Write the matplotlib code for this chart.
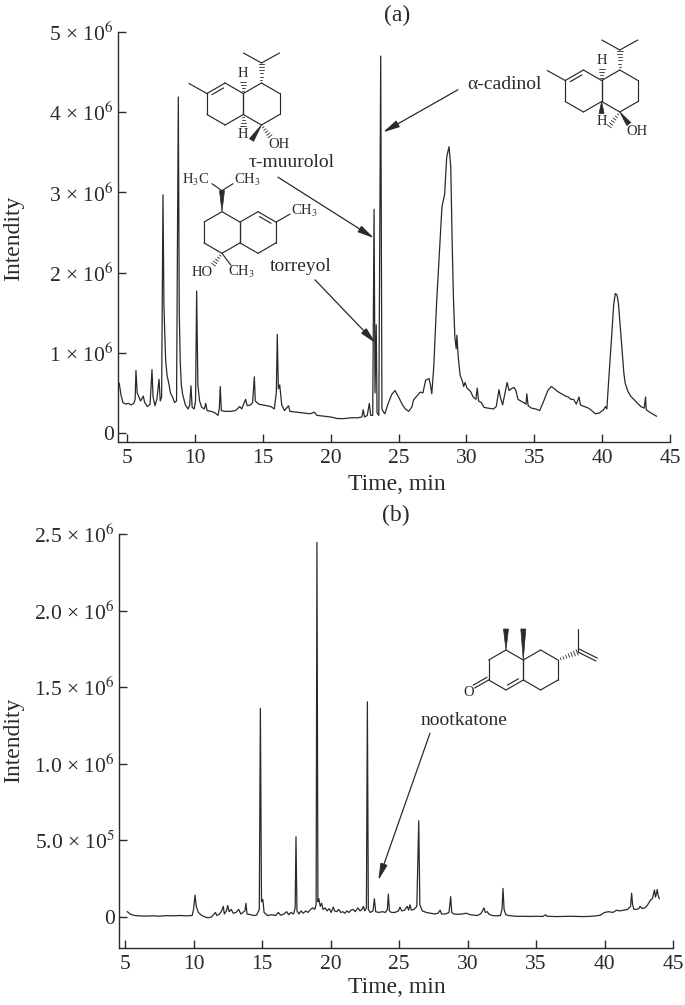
import matplotlib
matplotlib.use("Agg")
import matplotlib.pyplot as plt
from matplotlib.lines import Line2D
from matplotlib.patches import Polygon
from matplotlib.transforms import Affine2D
import numpy as np

plt.rcParams['font.family'] = ['Liberation Serif', 'DejaVu Serif']
plt.rcParams['mathtext.fontset'] = 'stix'

# ---------------- data: panel (a) ----------------
time_a = [4.43, 4.55, 4.7, 4.9, 5.1, 5.3, 5.5, 5.6, 5.66, 5.75, 5.9, 6.0, 6.2, 6.3, 6.5, 6.7, 6.84, 6.92,
          7.06, 7.2, 7.36, 7.45, 7.55, 7.65, 7.72, 7.78, 7.85, 7.95, 8.1, 8.2, 8.35, 8.5, 8.65, 8.78,
          8.85, 8.92, 9.0, 9.1, 9.3, 9.5, 9.62, 9.71, 9.8, 9.95, 10.05, 10.13, 10.22, 10.35, 10.5,
          10.7, 10.8, 10.9, 11.2, 11.5, 11.7, 11.8, 11.87, 11.95, 12.2, 12.6, 13.0, 13.3, 13.45,
          13.74, 13.85, 14.1, 14.25, 14.38, 14.45, 14.7, 15.0, 15.3, 15.6, 15.85, 16.0, 16.07, 16.15,
          16.25, 16.4, 16.6, 16.9, 17.0, 17.5, 18.0, 18.5, 18.8, 19.0, 19.5, 20.0, 20.5, 21.0, 21.5,
          22.0, 22.3, 22.4, 22.5, 22.7, 22.85, 22.95, 23.1, 23.2, 23.27, 23.36, 23.42, 23.55, 23.69,
          23.78, 23.9, 24.0, 24.2, 24.5, 24.74, 25.0, 25.3, 25.5, 25.75, 26.0, 26.1, 26.3, 26.6,
          26.8, 27.0, 27.25, 27.35, 27.45, 27.6, 27.8, 28.05, 28.2, 28.4, 28.55, 28.72, 28.85, 28.95,
          29.05, 29.15, 29.25, 29.3, 29.4, 29.54, 29.7, 29.8, 29.9, 30.05, 30.3, 30.5, 30.7, 30.8,
          30.9, 31.1, 31.3, 31.6, 32.0, 32.2, 32.4, 32.5, 32.67, 32.85, 33.0, 33.15, 33.3, 33.5,
          33.65, 33.8, 34.0, 34.2, 34.4, 34.45, 34.55, 34.8, 35.1, 35.4, 35.7, 36.0, 36.25, 36.5,
          36.7, 37.0, 37.3, 37.5, 37.7, 37.9, 38.1, 38.3, 38.4, 38.7, 39.0, 39.3, 39.5, 39.8, 40.1,
          40.25, 40.35, 40.5, 40.7, 40.85, 40.97, 41.1, 41.2, 41.3, 41.45, 41.6, 41.7, 41.9, 42.1,
          42.5, 42.85, 43.1, 43.2, 43.25, 43.5, 43.8, 44.0]
intensity_a = [0.62, 0.48, 0.38, 0.36, 0.37, 0.35, 0.37, 0.42, 0.78, 0.50, 0.44, 0.40, 0.46, 0.38, 0.33,
               0.36, 0.79, 0.45, 0.34, 0.42, 0.67, 0.40, 0.45, 2.97, 1.60, 1.25, 0.90, 0.72, 0.60, 0.50,
               0.45, 0.38, 0.40, 4.19, 1.50, 0.90, 0.60, 0.48, 0.35, 0.30, 0.35, 0.59, 0.32, 0.30, 0.40,
               1.77, 0.60, 0.40, 0.32, 0.30, 0.37, 0.28, 0.27, 0.25, 0.22, 0.30, 0.58, 0.28, 0.27, 0.27,
               0.28, 0.33, 0.30, 0.42, 0.34, 0.35, 0.38, 0.70, 0.40, 0.36, 0.35, 0.34, 0.33, 0.30, 0.50,
               1.23, 0.55, 0.60, 0.35, 0.28, 0.34, 0.27, 0.26, 0.25, 0.24, 0.26, 0.22, 0.21, 0.20, 0.18,
               0.18, 0.19, 0.19, 0.20, 0.29, 0.20, 0.22, 0.37, 0.22, 0.22, 2.79, 0.50, 1.35, 0.25, 0.22,
               4.70, 0.30, 0.26, 0.24, 0.35, 0.48, 0.53, 0.45, 0.35, 0.30, 0.27, 0.33, 0.41, 0.45, 0.51,
               0.50, 0.66, 0.68, 0.60, 0.49, 0.83, 1.60, 2.37, 2.82, 2.98, 3.44, 3.57, 3.32, 2.40, 1.66,
               1.20, 1.05, 1.22, 0.95, 0.72, 0.65, 0.58, 0.63, 0.56, 0.52, 0.45, 0.42, 0.56, 0.40, 0.38,
               0.32, 0.31, 0.30, 0.33, 0.54, 0.45, 0.35, 0.50, 0.63, 0.53, 0.55, 0.57, 0.53, 0.42, 0.40,
               0.38, 0.36, 0.49, 0.34, 0.31, 0.30, 0.28, 0.40, 0.53, 0.58, 0.55, 0.52, 0.49, 0.46, 0.45,
               0.42, 0.42, 0.36, 0.45, 0.35, 0.33, 0.31, 0.27, 0.24, 0.25, 0.29, 0.33, 0.30, 0.70, 1.20,
               1.60, 1.74, 1.72, 1.62, 1.40, 1.08, 0.75, 0.62, 0.52, 0.46, 0.39, 0.33, 0.31, 0.45, 0.29,
               0.26, 0.23, 0.21]

# ---------------- data: panel (b) ----------------
time_b = [5.17, 5.4, 5.7, 6.0, 6.5, 7.0, 7.5, 8.0, 8.5, 9.0, 9.5, 9.9, 10.0, 10.11, 10.2, 10.35, 10.6,
          11.0, 11.3, 11.6, 11.7, 11.9, 12.05, 12.17, 12.25, 12.4, 12.5, 12.6, 12.75, 12.9, 13.1, 13.3,
          13.45, 13.6, 13.75, 13.83, 13.9, 14.2, 14.4, 14.6, 14.8, 14.88, 14.96, 15.06, 15.15, 15.4,
          15.7, 16.0, 16.2, 16.35, 16.6, 16.8, 16.95, 17.1, 17.3, 17.42, 17.48, 17.55, 17.7, 17.85,
          18.0, 18.2, 18.35, 18.55, 18.7, 18.85, 18.95, 19.01, 19.08, 19.15, 19.25, 19.35, 19.45, 19.6,
          19.75, 19.9, 20.05, 20.2, 20.3, 20.45, 20.6, 20.75, 20.9, 21.05, 21.2, 21.35, 21.5, 21.66,
          21.8, 22.0, 22.15, 22.3, 22.4, 22.5, 22.62, 22.69, 22.76, 22.9, 23.1, 23.2, 23.3, 23.5, 23.8,
          24.0, 24.15, 24.22, 24.3, 24.45, 24.7, 24.95, 25.07, 25.2, 25.4, 25.6, 25.7, 25.8, 25.9,
          26.1, 26.3, 26.44, 26.52, 26.7, 27.0, 27.3, 27.6, 27.85, 28.0, 28.1, 28.4, 28.65, 28.77,
          28.85, 29.0, 29.3, 29.6, 29.9, 30.2, 30.5, 30.7, 30.95, 31.1, 31.2, 31.3, 31.45, 31.55, 31.8,
          32.1, 32.4, 32.52, 32.59, 32.67, 32.8, 33.0, 33.5, 34.0, 34.5, 35.0, 35.5, 35.7, 35.8, 36.5,
          37.0, 37.5, 38.0, 38.5, 39.0, 39.4, 39.7, 40.0, 40.3, 40.6, 40.9, 41.1, 41.4, 41.7, 41.9,
          41.98, 42.05, 42.15, 42.3, 42.5, 42.6, 42.75, 42.95, 43.15, 43.35, 43.5, 43.6, 43.65, 43.72,
          43.78, 43.85, 43.92, 44.0]
intensity_b = [0.035, 0.018, 0.010, 0.008, 0.006, 0.008, 0.006, 0.009, 0.008, 0.010, 0.008, 0.010, 0.050,
               0.143, 0.070, 0.030, 0.010, -0.005, 0.000, 0.030, 0.010, 0.020, 0.040, 0.070, 0.020, 0.040,
               0.075, 0.035, 0.050, 0.025, 0.030, 0.050, 0.020, 0.030, 0.040, 0.090, 0.020, 0.015, 0.010,
               0.012, 0.050, 1.362, 0.100, 0.115, 0.030, 0.010, 0.015, 0.010, 0.030, 0.012, 0.020, 0.035,
               0.015, 0.030, 0.020, 0.060, 0.524, 0.040, 0.020, 0.040, 0.025, 0.040, 0.030, 0.050, 0.060,
               0.050, 0.080, 2.446, 0.100, 0.120, 0.070, 0.090, 0.050, 0.060, 0.040, 0.055, 0.030, 0.065,
               0.040, 0.035, 0.050, 0.030, 0.035, 0.025, 0.040, 0.030, 0.045, 0.050, 0.035, 0.060, 0.040,
               0.050, 0.070, 0.040, 0.060, 1.405, 0.050, 0.030, 0.040, 0.120, 0.035, 0.030, 0.035, 0.030,
               0.050, 0.150, 0.040, 0.030, 0.030, 0.040, 0.065, 0.040, 0.045, 0.070, 0.045, 0.080, 0.045,
               0.050, 0.070, 0.629, 0.080, 0.040, 0.030, 0.025, 0.020, 0.025, 0.045, 0.020, 0.020, 0.030,
               0.133, 0.030, 0.020, 0.018, 0.020, 0.025, 0.015, 0.012, 0.010, 0.020, 0.040, 0.060, 0.030,
               0.035, 0.020, 0.010, 0.008, 0.010, 0.050, 0.187, 0.050, 0.015, 0.010, 0.005, 0.005, 0.004,
               0.005, 0.004, 0.015, 0.005, 0.003, 0.004, 0.005, 0.004, 0.003, 0.005, 0.008, 0.012, 0.030,
               0.035, 0.030, 0.045, 0.040, 0.045, 0.050, 0.070, 0.155, 0.080, 0.050, 0.050, 0.055, 0.070,
               0.055, 0.060, 0.080, 0.110, 0.120, 0.160, 0.176, 0.130, 0.150, 0.180, 0.140, 0.120]

xticks = [5, 10, 15, 20, 25, 30, 35, 40, 45]
yticks_a = [0, 1, 2, 3, 4, 5]
ylabels_a = ["0", "1 × 10$^{6}$", "2 × 10$^{6}$", "3 × 10$^{6}$", "4 × 10$^{6}$", "5 × 10$^{6}$"]
yticks_b = [0, 0.5, 1.0, 1.5, 2.0, 2.5]
ylabels_b = ["0", "5.0 × 10$^{5}$", "1.0 × 10$^{6}$", "1.5 × 10$^{6}$", "2.0 × 10$^{6}$", "2.5 × 10$^{6}$"]

INK = '#2a2a2a'
W, H = 685, 1005
fig = plt.figure(figsize=(W / 100, H / 100), dpi=100)
PX = Affine2D().scale(1 / W, -1 / H).translate(0, 1) + fig.transFigure


def style_axes(ax, yt, yl):
    for s in ('top', 'right'):
        ax.spines[s].set_visible(False)
    for s in ('left', 'bottom'):
        ax.spines[s].set_linewidth(1.0)
        ax.spines[s].set_color(INK)
    ax.set_xticks(xticks)
    ax.set_xticklabels([str(v) for v in xticks])
    ax.set_yticks(yt)
    ax.set_yticklabels(yl)
    ax.tick_params(direction='in', length=6, width=1.0, colors=INK, labelsize=15.5)
    ax.tick_params(axis='y', pad=3)
    ax.tick_params(axis='x', pad=5)
    ax.patch.set_alpha(0)


axA = fig.add_axes([118 / W, 1 - 442 / H, 552 / W, 410 / H])
axA.plot(time_a, intensity_a, color=INK, lw=0.9)
axA.set_xlim(4.337, 45)
axA.set_ylim(-0.112, 5.0)
style_axes(axA, yticks_a, ylabels_a)

axB = fig.add_axes([119 / W, 1 - 948 / H, 554 / W, 414 / H])
axB.plot(time_b, intensity_b, color=INK, lw=0.9)
axB.set_xlim(4.56, 45)
axB.set_ylim(-0.202, 2.5)
style_axes(axB, yticks_b, ylabels_b)

# axis labels and panel titles
fig.text(397 / W, 1 - 490 / H, "Time, min", ha='center', va='baseline', fontsize=17, color=INK)
fig.text(397 / W, 1 - 993 / H, "Time, min", ha='center', va='baseline', fontsize=17, color=INK)
fig.text(14 / W, 1 - 238 / H, "Intendity", ha='center', va='center', rotation=90, fontsize=17, color=INK)
fig.text(14 / W, 1 - 740 / H, "Intendity", ha='center', va='center', rotation=90, fontsize=17, color=INK)
fig.text(397 / W, 1 - 15 / H, "(a)", ha='center', va='center', fontsize=17, color=INK)
fig.text(396 / W, 1 - 515 / H, "(b)", ha='center', va='center', fontsize=17, color=INK)

# annotations
arrow = dict(arrowstyle='-|>,head_length=1.0,head_width=0.22', color=INK, lw=0.9,
             shrinkA=0, shrinkB=0, mutation_scale=10)
axA.text(30.05, 4.34, "α-cadinol", ha='left', va='center', fontsize=14, color=INK)
axA.annotate("", xy=(23.86, 3.75), xytext=(29.38, 4.28), arrowprops=arrow)
axA.text(17.12, 3.37, "τ-muurolol", ha='center', va='center', fontsize=14, color=INK)
axA.annotate("", xy=(23.2, 2.43), xytext=(16.12, 3.19), arrowprops=arrow)
axA.text(17.82, 2.07, "torreyol", ha='center', va='center', fontsize=14, color=INK)
axA.annotate("", xy=(23.32, 1.12), xytext=(18.85, 1.91), arrowprops=arrow)
axB.text(29.71, 1.286, "nootkatone", ha='center', va='center', fontsize=14, color=INK)
axB.annotate("", xy=(23.49, 0.24), xytext=(27.26, 1.20), arrowprops=arrow)


# ---------------- structure drawing helpers (figure pixel coords, y down) ----------------
def bond(p, q, lw=0.85):
    fig.add_artist(Line2D([p[0], q[0]], [p[1], q[1]], transform=PX, color=INK, lw=lw,
                          solid_capstyle='round'))


def ring(v):
    for i in range(6):
        bond(v[i], v[(i + 1) % 6])


def hexv(cx, cy, L):
    c = L * np.sqrt(3) / 2
    return [(cx, cy - L), (cx + c, cy - L / 2), (cx + c, cy + L / 2), (cx, cy + L),
            (cx - c, cy + L / 2), (cx - c, cy - L / 2)]


def inner(p, q, c, d=3.5, f=0.18):
    p, q, c = np.array(p, float), np.array(q, float), np.array(c, float)
    m = (p + q) / 2
    n = (c - m) / np.linalg.norm(c - m) * d
    bond(p + (q - p) * f + n, q - (q - p) * f + n)


def side_double(p, q, sgn=1, d=3.2):
    p, q = np.array(p, float), np.array(q, float)
    u = (q - p) / np.linalg.norm(q - p)
    n = np.array([-u[1], u[0]]) * d * sgn
    bond(p, q)
    bond(p + n, q + n)


def hashed(p, q, n=6, wmax=6.0):
    p, q = np.array(p, float), np.array(q, float)
    dv = q - p
    u = dv / np.linalg.norm(dv)
    perp = np.array([-u[1], u[0]])
    for i in range(1, n + 1):
        t = i / (n + 0.3)
        w = 0.6 + wmax * t / 2
        c = p + dv * t
        bond(c - perp * w, c + perp * w, lw=0.6)


def wedge(p, q, w=5.0):
    p, q = np.array(p, float), np.array(q, float)
    u = (q - p) / np.linalg.norm(q - p)
    perp = np.array([-u[1], u[0]]) * w / 2
    pts = [p, q + perp, q - perp]
    fig.add_artist(Polygon(pts, closed=True, transform=PX, facecolor=INK, edgecolor=INK, lw=0.5))


def chem(x, y, s, size=10.5, ha='center'):
    fig.text(x / W, 1 - y / H, s, ha=ha, va='center', fontsize=size, color=INK)


def cadinane(ox, oy, lower_bold, oh_bold):
    L = 21
    lc = (ox - L * np.sqrt(3) / 2, oy)
    rc = (ox + L * np.sqrt(3) / 2, oy)
    lv = hexv(lc[0], lc[1], L)
    rv = hexv(rc[0], rc[1], L)
    ring(lv)
    ring(rv)
    inner(lv[5], lv[0], lc)
    bond(lv[5], (lv[5][0] - 18, lv[5][1] - 10))
    top = rv[0]
    ip = (top[0], top[1] - 20)
    hashed(top, ip, n=6, wmax=5)
    bond(ip, (ip[0] - 18, ip[1] - 10))
    bond(ip, (ip[0] + 18, ip[1] - 10))
    hashed(lv[1], (lv[1][0], lv[1][1] - 12), n=4, wmax=5)
    chem(lv[1][0], lv[1][1] - 20, "H", size=10.5)
    if lower_bold:
        wedge(lv[2], (lv[2][0], lv[2][1] + 12), w=5)
    else:
        hashed(lv[2], (lv[2][0], lv[2][1] + 12), n=4, wmax=5)
    chem(lv[2][0], lv[2][1] + 20, "H", size=10.5)
    c = rv[3]
    if oh_bold:
        hashed(c, (c[0] - 11, c[1] + 15), n=6, wmax=4)
        wedge(c, (c[0] + 9, c[1] + 12), w=5)
        chem(c[0] + 17, c[1] + 19, "OH", size=10.5)
    else:
        wedge(c, (c[0] - 10, c[1] + 15), w=5)
        hashed(c, (c[0] + 9, c[1] + 12), n=5, wmax=4)
        chem(c[0] + 17, c[1] + 19, "OH", size=10.5)


# tau-muurolol (top-left) and alpha-cadinol (top-right)
cadinane(243.3, 104, lower_bold=False, oh_bold=False)
cadinane(601.6, 91, lower_bold=True, oh_bold=True)

# torreyol
L2 = 20.8
c2 = L2 * np.sqrt(3) / 2
lv = hexv(240 - c2, 232.5, L2)
rv = hexv(240 + c2, 232.5, L2)
ring(lv)
ring(rv)
inner(rv[0], rv[1], (240 + c2, 232.5))
wedge(lv[0], (lv[0][0], lv[0][1] - 21), w=5)
ch = (lv[0][0], lv[0][1] - 21)
bond(ch, (ch[0] - 10, ch[1] - 7))
bond(ch, (ch[0] + 11, ch[1] - 7))
chem(210, 180, "H$_3$C", size=10.5, ha='right')
chem(234, 180, "CH$_3$", size=10.5, ha='left')
bond(rv[1], (rv[1][0] + 14, rv[1][1] - 8))
chem(291, 211, "CH$_3$", size=10.5, ha='left')
cb = lv[3]
hashed(cb, (cb[0] - 9, cb[1] + 12), n=5, wmax=4)
bond(cb, (cb[0] + 9, cb[1] + 12))
chem(202, 272, "HO", size=10.5)
chem(228, 272, "CH$_3$", size=10.5, ha='left')

# nootkatone
L4 = 20
c4 = L4 * np.sqrt(3) / 2
lc4 = (523.3 - c4, 670)
rc4 = (523.3 + c4, 670)
lv = hexv(lc4[0], lc4[1], L4)
rv = hexv(rc4[0], rc4[1], L4)
ring(lv)
ring(rv)
inner(lv[3], lv[2], lc4)
side_double(lv[4], (lv[4][0] - 14, lv[4][1] + 8), sgn=1)
chem(469, 692, "O", size=10.5)
wedge(lv[0], (lv[0][0], lv[0][1] - 21), w=5)
wedge(lv[1], (lv[1][0], lv[1][1] - 31), w=5)
ur = rv[1]
ipc = (ur[0] + 20, ur[1] - 8)
hashed(ur, ipc, n=7, wmax=5)
bond(ipc, (ipc[0], ipc[1] - 23))
side_double(ipc, (ipc[0] + 18, ipc[1] + 9), sgn=-1)

fig.savefig("out.png", dpi=100)
